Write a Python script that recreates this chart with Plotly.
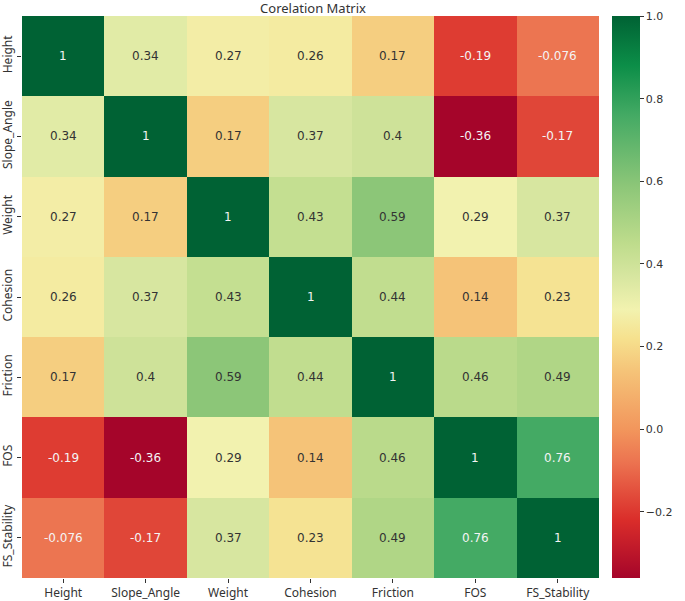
import plotly.graph_objects as go
from plotly.colors import sample_colorscale, unlabel_rgb

labels = ["Height", "Slope_Angle", "Weight", "Cohesion", "Friction", "FOS", "FS_Stability"]
row_height = [1, 0.34, 0.27, 0.26, 0.17, -0.19, -0.076]
row_slope = [0.34, 1, 0.17, 0.37, 0.4, -0.36, -0.17]
row_weight = [0.27, 0.17, 1, 0.43, 0.59, 0.29, 0.37]
row_cohesion = [0.26, 0.37, 0.43, 1, 0.44, 0.14, 0.23]
row_friction = [0.17, 0.4, 0.59, 0.44, 1, 0.46, 0.49]
row_fos = [-0.19, -0.36, 0.29, 0.14, 0.46, 1, 0.76]
row_fss = [-0.076, -0.17, 0.37, 0.23, 0.49, 0.76, 1]
z = [row_height, row_slope, row_weight, row_cohesion, row_friction, row_fos, row_fss]
text_labels = [["1", "0.34", "0.27", "0.26", "0.17", "-0.19", "-0.076"],
               ["0.34", "1", "0.17", "0.37", "0.4", "-0.36", "-0.17"],
               ["0.27", "0.17", "1", "0.43", "0.59", "0.29", "0.37"],
               ["0.26", "0.37", "0.43", "1", "0.44", "0.14", "0.23"],
               ["0.17", "0.4", "0.59", "0.44", "1", "0.46", "0.49"],
               ["-0.19", "-0.36", "0.29", "0.14", "0.46", "1", "0.76"],
               ["-0.076", "-0.17", "0.37", "0.23", "0.49", "0.76", "1"]]

zmin, zmax = -0.36, 1.0
# colour stops (value, colour) approximating the reference's RdYlGn rendering
stop_values = [-0.36, -0.22, -0.08, 0.0, 0.14, 0.22, 0.29, 0.37, 0.45, 0.59, 0.76, 0.88, 1.0]
stop_colors = ['rgb(165,5,42)', 'rgb(218,45,42)', 'rgb(236,115,80)', 'rgb(242,150,92)',
               'rgb(245,195,120)', 'rgb(246,225,142)', 'rgb(242,242,175)', 'rgb(215,230,160)',
               'rgb(190,220,140)', 'rgb(140,198,120)', 'rgb(68,170,100)', 'rgb(12,142,72)',
               'rgb(0,98,52)']
cscale = [[(v - zmin) / (zmax - zmin), c] for v, c in zip(stop_values, stop_colors)]
cscale[0][0] = 0.0
cscale[-1][0] = 1.0

def lum(c):
    r, g, b = [v / 255 for v in unlabel_rgb(c)]
    def f(x):
        return x / 12.92 if x <= 0.03928 else ((x + 0.055) / 1.055) ** 2.4
    return 0.2126 * f(r) + 0.7152 * f(g) + 0.0722 * f(b)

fig = go.Figure(go.Heatmap(
    z=z, x=labels, y=labels, zmin=zmin, zmax=zmax, colorscale=cscale,
    colorbar=dict(thickness=28, len=1.0, lenmode="fraction", y=0.5, yanchor="middle",
                  x=1.022, xanchor="left", xpad=0, ypad=0, outlinewidth=0,
                  tickvals=[-0.2, 0.0, 0.2, 0.4, 0.6, 0.8, 1.0],
                  ticktext=["\u22120.2", "0.0", "0.2", "0.4", "0.6", "0.8", "1.0"],
                  ticks="outside", ticklen=4, tickcolor="#333",
                  tickfont=dict(family="DejaVu Sans", size=11, color="#333")),
    hoverongaps=False,
))

for i, rl in enumerate(labels):
    for j, cl in enumerate(labels):
        v = z[i][j]
        t = (v - zmin) / (zmax - zmin)
        col = sample_colorscale(cscale, [t])[0]
        fc = "#333333" if lum(col) > 0.38 else "#f4f4f4"
        fig.add_annotation(x=cl, y=rl, text=text_labels[i][j], showarrow=False,
                           font=dict(family="DejaVu Sans", size=12, color=fc))

fig.update_layout(
    width=685, height=601,
    margin=dict(l=22, r=81, t=16, b=23),
    paper_bgcolor="white", plot_bgcolor="white",
    title=dict(text="Corelation Matrix", x=(22 + 291) / 685, xanchor="center",
               y=1 - 8 / 601, yanchor="middle",
               font=dict(family="Noto Sans", size=13, color="#333")),
    xaxis=dict(ticks="outside", ticklen=4, tickcolor="#333", showgrid=False, zeroline=False,
               tickfont=dict(family="Noto Sans", size=12, color="#333"), tickangle=0,
               automargin=False),
    yaxis=dict(ticks="outside", ticklen=4, tickcolor="#333", showgrid=False, zeroline=False,
               autorange="reversed", tickangle=-90, automargin=False,
               tickfont=dict(family="Noto Sans", size=12, color="#333")),
)

fig.write_html("out.html")
